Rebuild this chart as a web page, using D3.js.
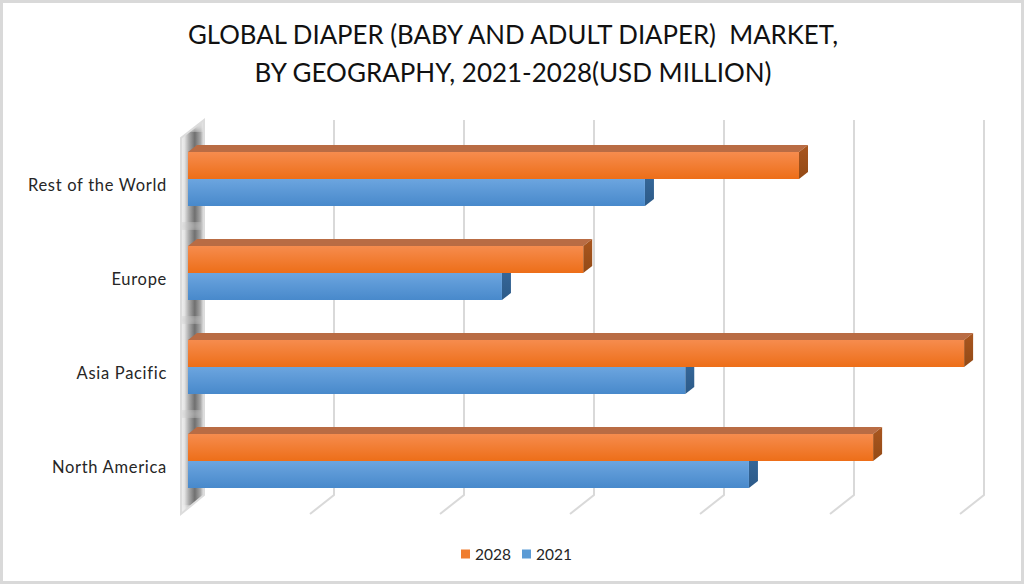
<!DOCTYPE html>
<html>
<head>
<meta charset="utf-8">
<title>Global Diaper Market</title>
<script src="https://cdn.jsdelivr.net/npm/d3@7"></script>
<style>
  html, body { margin: 0; padding: 0; background: #fff; }
  svg { display: block; font-family: Lato, "Open Sans", sans-serif; }
  .tick text { fill: #262626; font-size: 16.5px; letter-spacing: .7px; }
</style>
</head>
<body>
<svg width="1024" height="584"></svg>
<script>
const titleLines = ["GLOBAL DIAPER (BABY AND ADULT DIAPER)  MARKET,", "BY GEOGRAPHY, 2021-2028(USD MILLION)"];
const titleWidths = [650, 517];
const regions = ["Rest of the World", "Europe", "Asia Pacific", "North America"];
const seriesNames = ["2028", "2021"];
const values2028 = [4700, 3040, 5970, 5270];
const values2021 = [3515, 2415, 3825, 4315];
const seriesColors = {
  "2028": { top: "#f68c4e", bottom: "#ed6e18", roof: "#b96c44", sideA: "#a9561f", sideB: "#934a16", key: "#f07d2e" },
  "2021": { top: "#6ca5df", bottom: "#4889cb", roof: "#3f76ad", sideA: "#37699b", sideB: "#2c5a88", key: "#5b9bd5" }
};

const svg = d3.select("svg");
const defs = svg.append("defs");

// frame
svg.append("rect").attr("x", 1.5).attr("y", 1.5).attr("width", 1021).attr("height", 581)
  .attr("fill", "#fff").attr("stroke", "#d9d9d9").attr("stroke-width", 3);

// title
svg.append("g").selectAll("text").data(titleLines).enter().append("text")
  .attr("x", 513).attr("y", (d, i) => 44 + i * 38)
  .attr("text-anchor", "middle").attr("xml:space", "preserve")
  .attr("font-size", 27.5).attr("fill", "#111")
  .attr("textLength", (d, i) => titleWidths[i]).attr("lengthAdjust", "spacingAndGlyphs")
  .text(d => d);

const x = d3.scaleLinear().domain([0, 6000]).range([188, 968]);
const y = d3.scaleBand().domain(regions).range([132, 508]).paddingInner(40 / 94).paddingOuter(20 / 94);
const y1 = d3.scaleBand().domain(seriesNames).range([0, y.bandwidth()]);

// 3d offsets
const wallDx = 16, floorDx = 24, floorDy = 19, barDx = 9, barDy = 7;
const gridTop = 120, gridBottom = 495;

// gridlines on back wall + floor
const tickVals = x.ticks(6);
const grid = svg.append("g").attr("fill", "none").attr("stroke", "#d9d9d9").attr("stroke-width", 2);
grid.selectAll("path").data(tickVals.slice(1)).enter().append("path")
  .attr("d", d => {
    const gx = x(d) + wallDx;
    return `M${gx},${gridTop}V${gridBottom}L${gx - floorDx},${gridBottom + floorDy}`;
  });

// side wall with the blurred dark shading
const wx = x(0) + wallDx;
const wallPath = `M${wx},${gridTop}L${wx - floorDx + 1},${gridTop + 18}V${gridBottom + floorDy}L${wx},${gridBottom}Z`;
const wallGrad = defs.append("linearGradient").attr("id", "wallGrad");
[[0, "#f0f0f0"], [.15, "#e4e4e4"], [.35, "#a8a8a8"], [.6, "#707070"], [.85, "#a8a8a8"], [1, "#ececec"]].forEach(s => {
  wallGrad.append("stop").attr("offset", s[0]).attr("stop-color", s[1]);
});
defs.append("filter").attr("id", "soft").append("feGaussianBlur").attr("stdDeviation", 4);
defs.append("clipPath").attr("id", "wallClip").append("path").attr("d", wallPath);
const wall = svg.append("g");
wall.append("path").attr("d", wallPath).attr("fill", "url(#wallGrad)");
const wallFade = wall.append("g").attr("clip-path", "url(#wallClip)");
wallFade.selectAll("rect.gap").data(regions.slice(1)).enter().append("rect").attr("class", "gap")
  .attr("x", wx - floorDx).attr("width", floorDx)
  .attr("y", d => y(d) - 23).attr("height", 6)
  .attr("fill", "#c8c8c8").attr("filter", "url(#soft)");
wallFade.selectAll("rect.end").data([gridTop - 2, gridBottom + 12]).enter().append("rect").attr("class", "end")
  .attr("x", wx - floorDx).attr("width", floorDx)
  .attr("y", d => d).attr("height", 12)
  .attr("fill", "#f2f2f2").attr("filter", "url(#soft)");
wall.append("path").attr("d", wallPath).attr("fill", "none").attr("stroke", "#dcdcdc").attr("stroke-width", 2);

// bar gradients
seriesNames.forEach(s => {
  const c = seriesColors[s];
  const g = defs.append("linearGradient").attr("id", "front" + s).attr("x2", 0).attr("y2", 1);
  g.append("stop").attr("offset", 0).attr("stop-color", c.top);
  g.append("stop").attr("offset", 1).attr("stop-color", c.bottom);
  const h = defs.append("linearGradient").attr("id", "side" + s).attr("x2", 0).attr("y2", 1);
  h.append("stop").attr("offset", 0).attr("stop-color", c.sideA);
  h.append("stop").attr("offset", 1).attr("stop-color", c.sideB);
});

// rows of [region, series, value]; 2021 drawn first so the 2028 bar sits over its top face
const rows = [];
regions.forEach((r, i) => {
  rows.push({ region: r, series: "2021", value: values2021[i] });
  rows.push({ region: r, series: "2028", value: values2028[i] });
});

const bars = svg.append("g").selectAll("g").data(rows).enter().append("g");
const x0 = x(0);
const by = d => y(d.region) + y1(d.series);
const bh = y1.bandwidth();

bars.append("path").attr("fill", d => seriesColors[d.series].roof)
  .attr("d", d => `M${x0},${by(d)}L${x0 + barDx},${by(d) - barDy}H${x(d.value) + barDx}L${x(d.value)},${by(d)}Z`);
bars.append("path").attr("fill", d => `url(#side${d.series})`)
  .attr("d", d => `M${x(d.value)},${by(d)}L${x(d.value) + barDx},${by(d) - barDy}V${by(d) + bh - barDy}L${x(d.value)},${by(d) + bh}Z`);
bars.append("rect").attr("fill", d => `url(#front${d.series})`)
  .attr("x", x0).attr("y", by).attr("height", bh)
  .attr("width", d => x(d.value) - x0);

// category axis, labels sit a little under the band centre
const yAxis = svg.append("g").attr("transform", "translate(188,7)")
  .call(d3.axisLeft(y).tickSize(0).tickPadding(21));
yAxis.select(".domain").remove();
yAxis.attr("font-family", null).attr("font-size", null);

// legend
const legendX = d3.scalePoint().domain(seriesNames).range([461, 522]);
const legend = svg.append("g").selectAll("g").data(seriesNames).enter().append("g")
  .attr("transform", d => `translate(${legendX(d)},554)`);
legend.append("rect").attr("y", -4.5).attr("width", 9).attr("height", 9).attr("fill", d => seriesColors[d].key);
legend.append("text").attr("x", 14).attr("dy", "0.36em").attr("font-size", 15.5).attr("fill", "#262626").text(d => d);
</script>
</body>
</html>
